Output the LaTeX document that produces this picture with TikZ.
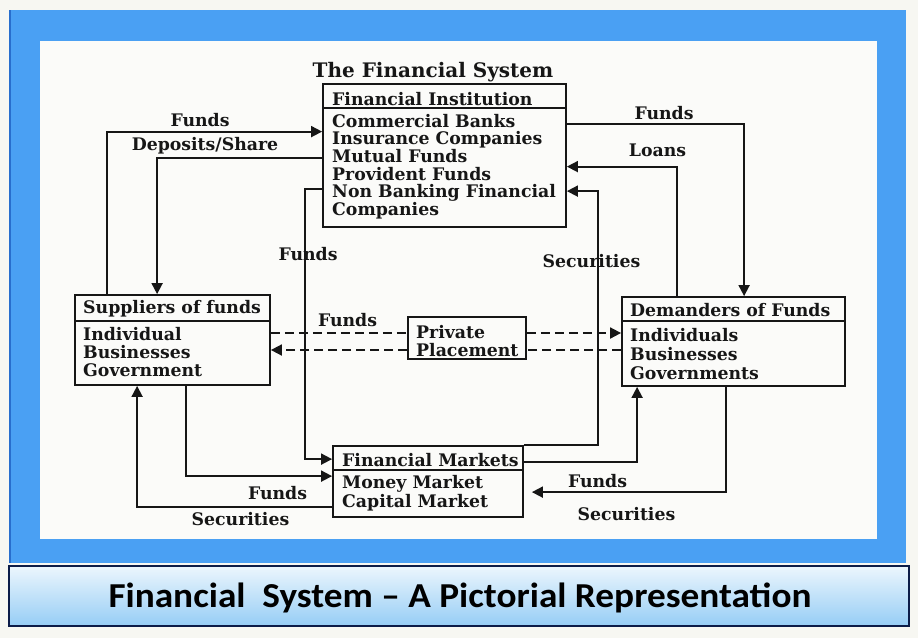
\documentclass[tikz,border=0pt]{standalone}
\usepackage{fontspec}
\setmainfont{DejaVu Serif}
\newfontfamily\capfont{Carlito}
\usetikzlibrary{arrows.meta}

\definecolor{paper}{RGB}{247,247,242}
\definecolor{frameblue}{RGB}{74,160,243}
\definecolor{bluedark}{RGB}{40,110,205}
\definecolor{panel}{RGB}{251,251,249}
\definecolor{captop}{RGB}{236,246,253}
\definecolor{capbot}{RGB}{150,205,245}
\definecolor{capline}{RGB}{12,28,72}
\definecolor{ink}{RGB}{22,22,22}

\begin{document}
\begin{tikzpicture}[x=1pt,y=-1pt,
		every node/.style={text=ink,
		font=\bfseries\fontsize{17.3}{18}\selectfont},
		blk/.style={draw=ink,line width=1.8pt,inner sep=0pt},
		txt/.style={anchor=west,align=left,inner sep=0pt},
		lbl/.style={inner sep=0pt},
		flow/.style={draw=ink,line width=1.8pt,
		-{Triangle[length=11pt,width=11pt]}},
		rule/.style={draw=ink,line width=1.8pt},
		dashrule/.style={draw=ink,line width=1.8pt,
		dash pattern=on 9pt off 5pt},
		dashflow/.style={dashrule,
		-{Triangle[length=11pt,width=11pt]}}]

		\useasboundingbox (0,0) rectangle (918,638);

		% frame
		\fill[paper] (0,0) rectangle (918,638);
		\fill[frameblue] (9,10) rectangle (906,563);
		\draw[bluedark,line width=1.5pt] (9.75,563) -- (9.75,10);
		\fill[panel] (40,41) rectangle (877,539);
		\shade[top color=captop,bottom color=capbot] (9,566) rectangle (909,626);
		\draw[capline,line width=1.6pt] (9,566) rectangle (909,626);
		\node[anchor=base,text=black,
			font=\capfont\bfseries\fontsize{35}{35}\selectfont] (caption) at (460,607)
			{\scalebox{1.065}[1]{Financial\ \ System – A Pictorial Representation}};

		% boxes
		\node[blk,minimum width=243pt,minimum height=143pt] (fi) at (444.5,155.5) {};
		\node[blk,minimum width=195pt,minimum height=90pt] (sup) at (172.5,340) {};
		\node[blk,minimum width=223pt,minimum height=89pt] (dem) at (733.5,341.5) {};
		\node[blk,minimum width=118pt,minimum height=42pt] (pp) at (467,338) {};
		\node[blk,minimum width=190pt,minimum height=71pt] (fm) at (428,481.5) {};

		\draw[rule] ([yshift=-24.5pt]fi.north west) -- ([yshift=-24.5pt]fi.north east);
		\draw[rule] ([yshift=-27pt]sup.north west) -- ([yshift=-27pt]sup.north east);
		\draw[rule] ([yshift=-25pt]dem.north west) -- ([yshift=-25pt]dem.north east);
		\draw[rule] ([yshift=-25pt]fm.north west) -- ([yshift=-25pt]fm.north east);

		\node[lbl,font=\bfseries\fontsize{20}{21}\selectfont] (title) at (433,72.5) {The Financial System};

		\node[txt] (fihead) at (332,99) {Financial Institution};
		\node[txt,font=\bfseries\fontsize{17.3}{17.6}\selectfont] (fibody) at (332,166.5)
			{Commercial Banks\\Insurance Companies\\Mutual Funds\\Provident Funds\\Non Banking Financial\\Companies};
		\node[txt] (suphead) at (83,309) {Suppliers of funds};
		\node[txt] (supbody) at (83,352) {Individual\\Businesses\\Government};
		\node[txt] (demhead) at (630,310.5) {Demanders of Funds};
		\node[txt,font=\bfseries\fontsize{17.3}{19}\selectfont] (dembody) at (630,354.5)
			{Individuals\\Businesses\\Governments};
		\node[txt] (pptext) at (416,341) {Private\\Placement};
		\node[txt] (fmhead) at (342,460) {Financial Markets};
		\node[txt,font=\bfseries\fontsize{17.3}{19}\selectfont] (fmbody) at (342,493.5)
			{Money Market\\Capital Market};

		% connectors
		\draw[flow] ([xshift=33pt]sup.north west) |- ([yshift=-48.5pt]fi.north west);
		\draw[flow] ([yshift=-74.5pt]fi.north west) -| ([xshift=83pt]sup.north west);
		\draw[flow] ([yshift=-106pt]fi.north west) -- ++(-17,0) |- ([yshift=-14pt]fm.north west);
		\draw[flow] ([yshift=-41pt]fi.north east) -| ([xshift=123pt]dem.north west);
		\draw[flow] ([xshift=56pt]dem.north west) |- ([yshift=-83.5pt]fi.north east);
		\draw[flow] (fm.north east) -- ++(74,0) |- ([yshift=-108pt]fi.north east);
		\draw[flow] ([yshift=-17pt]fm.north east) -| ([xshift=16pt]dem.south west);
		\draw[flow,shorten >=8pt] ([xshift=105pt]dem.south west) |- ([yshift=-47pt]fm.north east);
		\draw[flow] ([xshift=112pt]sup.south west) |- ([yshift=-31pt]fm.north west);
		\draw[flow] ([yshift=-62pt]fm.north west) -| ([xshift=63pt]sup.south west);

		\coordinate (pwu) at ([yshift=5pt]pp.west);
		\coordinate (pwl) at ([yshift=-12pt]pp.west);
		\coordinate (peu) at ([yshift=5pt]pp.east);
		\coordinate (pel) at ([yshift=-12pt]pp.east);
		\draw[dashrule] (sup.east |- pwu) -- (pwu);
		\draw[dashflow] (peu) -- (peu -| dem.west);
		\draw[dashrule] (dem.west |- pel) -- (pel);
		\draw[dashflow] (pwl) -- (pwl -| sup.east);

		% labels
		\node[lbl] (lfunds1) at (200,120) {Funds};
		\node[lbl] (ldeposits) at (205,146) {Deposits/Share};
		\node[lbl] (lfunds2) at (308,254) {Funds};
		\node[lbl] (lfunds3) at (664,113) {Funds};
		\node[lbl] (lloans) at (657.5,150.5) {Loans};
		\node[lbl] (lsec1) at (591.5,261) {Securities};
		\node[lbl] (lfunds4) at (347.5,320.5) {Funds};
		\node[lbl] (lfunds5) at (277.5,493) {Funds};
		\node[lbl] (lsec2) at (240.5,519) {Securities};
		\node[lbl] (lfunds6) at (597.5,481) {Funds};
		\node[lbl] (lsec3) at (626.5,514) {Securities};

	\end{tikzpicture}
\end{document}
